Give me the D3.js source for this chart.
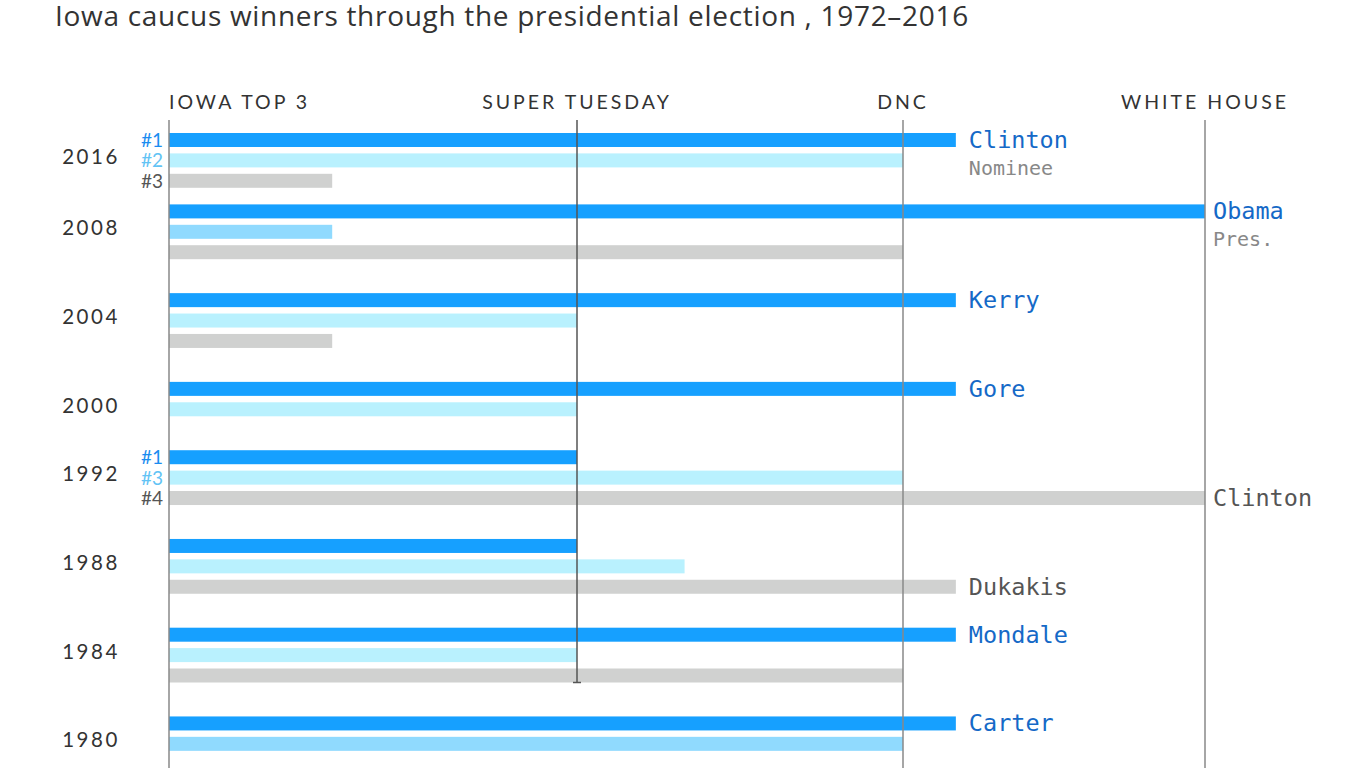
<!DOCTYPE html>
<html lang="en">

<body style="margin:0;background:#fff">
    <script type='text/javascript' src='https://d3js.org/d3.v7.min.js'></script>
    <script>

        // Data: how far each Iowa finisher got (0 = Iowa, 1 = Super Tuesday, 2 = DNC, 3 = White House)
        const years = ["2016", "2008", "2004", "2000", "1992", "1988", "1984", "1980"];
        const firstPlace = [2.175, 3, 2.175, 2.175, 1, 1, 2.175, 2.175];
        const secondPlace = [2, 0.4, 1, 1, 2, 1.33, 1, 2];
        const thirdPlace = [0.4, 2, 0.4, null, 3, 2.175, 2, null];
        const secondShade = ["pale", "mid", "pale", "pale", "pale", "pale", "pale", "mid"];
        const rankLabels = [["#1", "#2", "#3"], null, null, null, ["#1", "#3", "#4"], null, null, null];
        const winners = ["Clinton", "Obama", "Kerry", "Gore", "Clinton", "Dukakis", "Mondale", "Carter"];
        const winnerBar = [0, 0, 0, 0, 2, 2, 0, 0];
        const winnerNote = ["Nominee", "Pres.", "", "", "", "", "", ""];
        const stages = ["IOWA TOP 3", "SUPER TUESDAY", "DNC", "WHITE HOUSE"];

        const W = 1366, H = 768;
        const svg = d3.select("body").append("svg")
            .attr("width", W).attr("height", H)
            .style("display", "block");

        const x = d3.scaleLinear().domain([0, 1, 2, 3]).range([169, 577, 903, 1205]);
        // vertical slots: one per bar, plus gaps between years
        const y = d3.scaleLinear().domain([0, 1]).range([140, 160.4]);
        const barH = 14;

        const colors = { first: "#16a0ff", pale: "#b9f1fe", mid: "#90dafe", third: "#d0d1d0" };
        const rankColors = ["#1a8cf0", "#62c3f5", "#555"];
        const sans = "'Open Sans', Lato, sans-serif";

        // title
        svg.append("text")
            .attr("x", 55).attr("y", 26)
            .attr("font-family", sans)
            .attr("font-size", 28)
            .attr("letter-spacing", 0.7)
            .attr("fill", "#333")
            .text("Iowa caucus winners through the presidential election , 1972–2016");

        // build rows
        let slot = 0;
        const rows = years.map((yr, i) => {
            const vals = [firstPlace[i], secondPlace[i], thirdPlace[i]].filter(v => v != null);
            const row = { year: yr, i: i, start: slot, vals: vals };
            slot += vals.length + (i === 0 ? 0.5 : 1.35);
            return row;
        });

        const bars = [];
        rows.forEach(r => {
            r.vals.forEach((v, k) => {
                bars.push({
                    row: r, k: k, v: v, slot: r.start + k,
                    color: k === 0 ? colors.first : k === 1 ? colors[secondShade[r.i]] : colors.third
                });
            });
        });

        svg.append("g").selectAll("rect")
            .data(bars)
            .enter()
            .append("rect")
            .attr("x", x(0))
            .attr("y", d => y(d.slot) - barH / 2)
            .attr("width", d => x(d.v) - x(0))
            .attr("height", barH)
            .attr("fill", d => d.color);

        // stage lines
        const lineTop = 120;
        const capY = y(rows[6].start + 2) + barH / 2;
        svg.append("g").selectAll("line")
            .data([0, 1, 2, 3])
            .enter()
            .append("line")
            .attr("x1", d => x(d)).attr("x2", d => x(d))
            .attr("y1", lineTop)
            .attr("y2", d => d === 1 ? capY : H)
            .attr("stroke", d => d === 1 ? "#555" : "#888")
            .attr("stroke-width", 1.5);
        // small cap at end of the super tuesday line
        svg.append("line")
            .attr("x1", x(1) - 4).attr("x2", x(1) + 4)
            .attr("y1", capY).attr("y2", capY)
            .attr("stroke", "#555").attr("stroke-width", 1.5);

        // stage headers
        svg.append("g").selectAll("text")
            .data(stages)
            .enter()
            .append("text")
            .attr("x", (d, i) => i === 0 ? x(0) : x(i))
            .attr("y", 109)
            .attr("text-anchor", (d, i) => i === 0 ? "start" : "middle")
            .attr("font-family", "Lato, 'Open Sans', sans-serif")
            .attr("font-size", 19.5)
            .attr("letter-spacing", 3)
            .attr("fill", "#333")
            .text(d => d);

        // year labels
        svg.append("g").selectAll("text")
            .data(rows)
            .enter()
            .append("text")
            .attr("x", 91)
            .attr("y", d => y(d.start + 0.83) + 7)
            .attr("text-anchor", "middle")
            .attr("font-family", "Lato, 'Open Sans', sans-serif")
            .attr("font-size", 20.5)
            .attr("letter-spacing", 2.5)
            .attr("fill", "#333")
            .text(d => d.year);

        // rank labels
        const ranks = [];
        rows.forEach(r => {
            if (rankLabels[r.i]) rankLabels[r.i].forEach((t, k) => ranks.push({ t: t, k: k, slot: r.start + k }));
        });
        svg.append("g").selectAll("text")
            .data(ranks)
            .enter()
            .append("text")
            .attr("x", 163)
            .attr("y", d => y(d.slot) + 7)
            .attr("text-anchor", "end")
            .attr("font-family", "Lato, 'Open Sans', sans-serif")
            .attr("font-size", 19)
            .attr("fill", d => rankColors[d.k])
            .text(d => d.t);

        // winner labels
        const mono = "'DejaVu Sans Mono', 'Liberation Mono', monospace";
        const labels = svg.append("g").selectAll("g")
            .data(rows)
            .enter()
            .append("g")
            .attr("transform", d => {
                const v = d.vals[winnerBar[d.i]];
                return "translate(" + (x(v) + (v === 3 ? 8 : 13)) + "," + y(d.start + winnerBar[d.i]) + ")";
            });
        labels.append("text")
            .attr("y", 8)
            .attr("font-family", mono)
            .attr("font-size", 23.5)
            .attr("fill", d => winnerBar[d.i] === 0 ? "#1569c7" : "#555")
            .text(d => winners[d.i]);
        labels.append("text")
            .attr("y", 35)
            .attr("font-family", mono)
            .attr("font-size", 20)
            .attr("fill", "#888")
            .text(d => winnerNote[d.i]);

    </script>

</body>

</html>
